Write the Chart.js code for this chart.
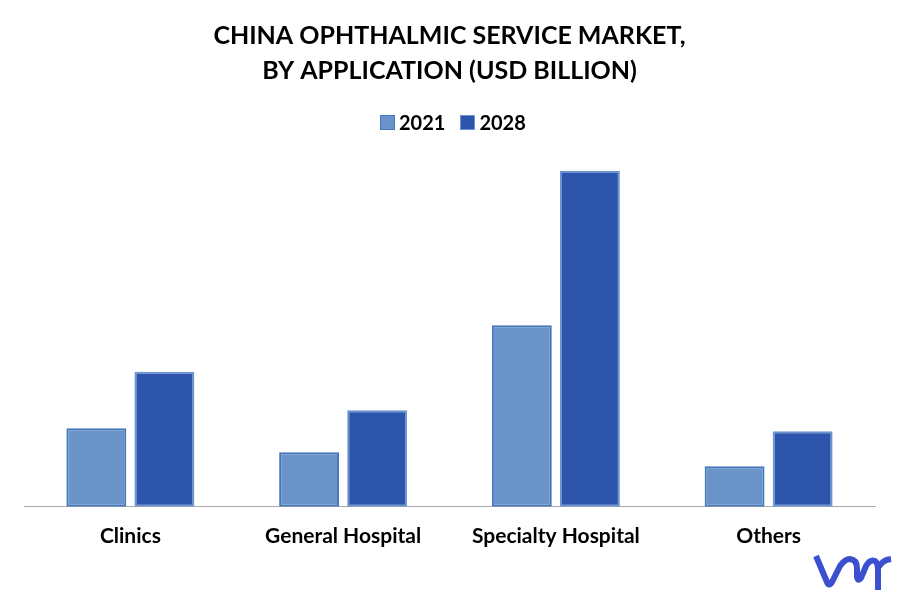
<!DOCTYPE html>
<html>
<head>
<meta charset="utf-8">
<title>China Ophthalmic Service Market</title>
<script src="https://cdn.jsdelivr.net/npm/chart.js@4/dist/chart.umd.min.js"></script>
<style>
  html, body { margin: 0; padding: 0; background: #fff; }
  #wrap { position: relative; width: 897px; height: 592px; overflow: hidden; }
  #legend { position: absolute; top: 108px; left: 380px; display: flex; font: bold 20px Lato, sans-serif; color: #000; line-height: 28px; }
  #legend span.item { display: flex; align-items: center; margin-right: 15px; }
  #legend i { width: 13px; height: 13px; border: 1px solid; margin-right: 4px; display: block; }
  #logo { position: absolute; left: 810px; top: 550px; }
</style>
</head>
<body>
<div id="wrap">
  <canvas id="marketChart" width="897" height="592"></canvas>
  <div id="legend"></div>
  <svg id="logo" width="87" height="42" viewBox="810 550 87 42" fill="none" stroke="#3B50CE" stroke-width="6">
    <path d="M816 556 L827 582 Q829 587 832 582 L840 566 Q845 559 850 559 Q857 560 857 568 L857 577 Q858 582 861 578 L866 566 Q870 559 875 561 Q878 563 878 570 L878 590"/>
    <path d="M878 568 Q882 560 891 559"/>
  </svg>
</div>
<script>
const categories = ['Clinics', 'General Hospital', 'Specialty Hospital', 'Others'];
const years = ['2021', '2028'];
const values2021 = [0.785, 0.545, 1.815, 0.405];
const values2028 = [1.35, 0.965, 3.355, 0.755];

const ctx = document.getElementById('marketChart').getContext('2d');
const fills = ['#6A93C9', '#2D55AB'];
const edges = ['#4577BC', '#6C94D0'];

const chart = new Chart(ctx, {
  type: 'bar',
  data: {
    labels: categories,
    datasets: [values2021, values2028].map((vals, i) => ({
      label: years[i],
      data: vals,
      backgroundColor: fills[i],
      borderColor: edges[i],
      borderWidth: 2,
      borderSkipped: false,
      categoryPercentage: 0.64,
      barPercentage: 0.88,
    })),
  },
  options: {
    responsive: false,
    animation: false,
    layout: { padding: { left: 24, right: 22, bottom: 26 } },
    plugins: {
      legend: { display: false },
      tooltip: { enabled: false },
      title: {
        display: true,
        text: ['CHINA OPHTHALMIC SERVICE MARKET,', 'BY APPLICATION (USD BILLION)'],
        color: '#000',
        font: { family: 'Lato', size: 25, weight: 'bold', lineHeight: 1.4 },
        padding: { top: 18, bottom: 72 },
      },
    },
    scales: {
      x: {
        z: 1,
        grid: { display: false, drawTicks: false },
        border: { color: '#ABABAB', width: 1 },
        ticks: { color: '#000', padding: 17, maxRotation: 0, font: { family: 'Lato', size: 21, weight: 'bold' } },
      },
      y: {
        display: false,
        min: 0,
        max: 3.465,
      },
    },
  },
});

// легенда отдельно, у встроенной слишком большой отступ до текста
const legendEl = document.getElementById('legend');
chart.data.datasets.forEach((ds) => {
  const item = document.createElement('span');
  item.className = 'item';
  const box = document.createElement('i');
  box.style.background = ds.backgroundColor;
  box.style.borderColor = ds.borderColor;
  item.appendChild(box);
  item.appendChild(document.createTextNode(ds.label));
  legendEl.appendChild(item);
});
</script>
</body>
</html>
